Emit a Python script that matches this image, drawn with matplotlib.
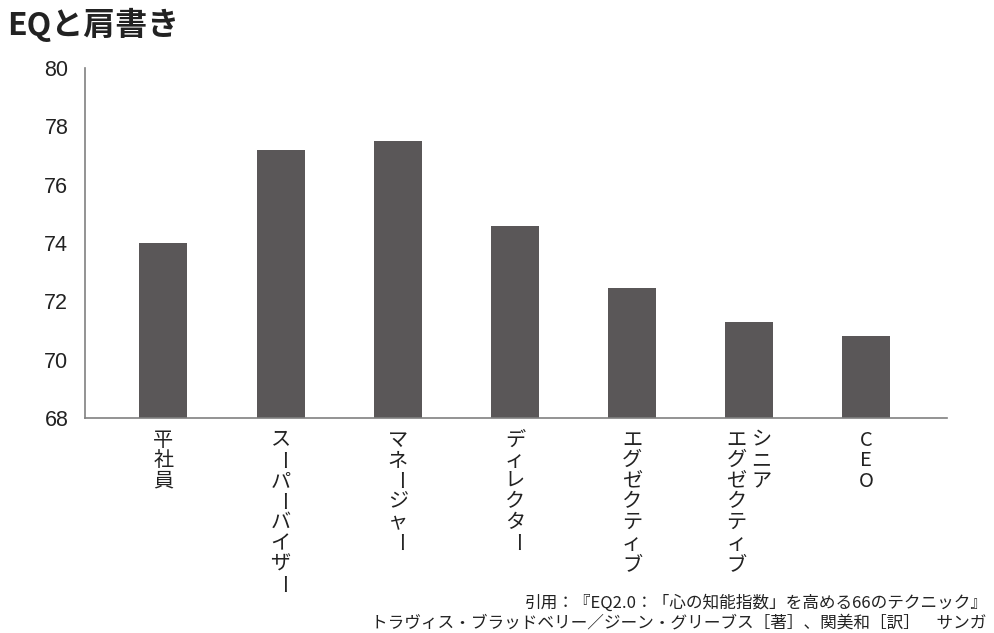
import matplotlib.pyplot as plt
import matplotlib.transforms as mtransforms

# EQと肩書き
categories = ["平社員", "スーパーバイザー", "マネージャー", "ディレクター",
              "エグゼクティブ", "シニア\nエグゼクティブ", "CEO"]
eq_scores = [74.0, 77.2, 77.5, 74.6, 72.45, 71.3, 70.8]
yticks = [68, 70, 72, 74, 76, 78, 80]
source_lines = ["引用：『EQ2.0：「心の知能指数」を高める66のテクニック』",
                "トラヴィス・ブラッドベリー／ジーン・グリーブス［著］、関美和［訳］　サンガ"]

jp = ["Noto Sans CJK JP", "DejaVu Sans"]
bar_color = "#5a5758"
axis_color = "#808080"

fig = plt.figure(figsize=(9.95, 6.33), dpi=100)
ax = fig.add_axes([85 / 995, 1 - 418 / 633, 862 / 995, 350 / 633])

x = list(range(len(categories)))
ax.bar(x, eq_scores, width=0.41, color=bar_color, zorder=2)

ax.set_ylim(68, 80)
ax.set_xlim(-0.67, len(categories) - 1 + 0.69)
ax.set_yticks(yticks)
ax.set_yticklabels([str(t) for t in yticks], family="Liberation Sans",
                   fontsize=15.5, color="#222222")
ax.tick_params(axis="y", length=0, pad=12)
ax.set_xticks([])
for s in ["top", "right"]:
    ax.spines[s].set_visible(False)
for s in ["left", "bottom"]:
    ax.spines[s].set_color(axis_color)
    ax.spines[s].set_linewidth(1.2)

# 縦書きラベル（一文字ずつ配置）
pitch = 20.7
first = 22
col_gap = 25
trans = ax.get_xaxis_transform()
for i, lab in enumerate(categories):
    cols = lab.split("\n")
    ncol = len(cols)
    for c, col in enumerate(cols):
        # 右の列から読む
        dx = (ncol - 1 - c) * col_gap - (ncol - 1) * col_gap / 2
        for k, ch in enumerate(col):
            rot = -90 if ch == "ー" else 0
            t = mtransforms.offset_copy(trans, fig=fig, x=dx,
                                        y=-(first + pitch * k), units="dots")
            ax.text(i, 0, ch, transform=t, ha="center", va="center",
                    rotation=rot, rotation_mode="anchor",
                    family=jp, fontsize=14.5, color="#222222")

fig.text(0.007, 1 - 35 / 633, "EQと肩書き", family=jp, fontsize=23,
         fontweight="bold", color="#222222", va="baseline")

fig.text(988 / 995, 1 - 603 / 633, source_lines[0], family=jp, fontsize=12,
         ha="right", va="center", color="#222222")
fig.text(986 / 995, 1 - 623 / 633, source_lines[1], family=jp, fontsize=12,
         ha="right", va="center", color="#222222")

fig.savefig("out.png", dpi=100)
